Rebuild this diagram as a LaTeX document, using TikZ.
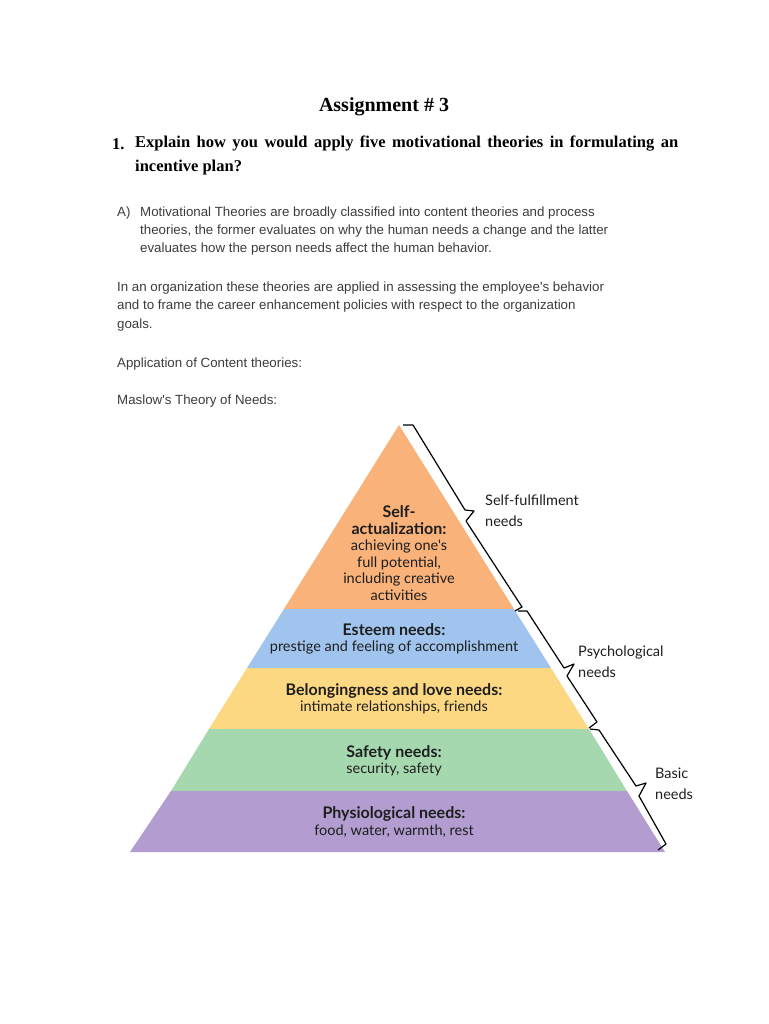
\documentclass[tikz,border=0pt]{standalone}
\usepackage{fontspec}
\setmainfont{Liberation Serif}
\newfontfamily\bodyf{Liberation Sans}
\newfontfamily\pyrf{Lato}
\newcommand\pyrhd[1]{{\bfseries\fontsize{16}{18}\selectfont #1}}
\definecolor{orng}{RGB}{248,178,122}
\definecolor{blu}{RGB}{160,196,238}
\definecolor{yel}{RGB}{252,216,130}
\definecolor{grn}{RGB}{166,216,176}
\definecolor{purp}{RGB}{178,156,208}
\definecolor{bodyc}{RGB}{60,60,60}
\definecolor{ink}{RGB}{30,30,30}
\begin{document}
\begin{tikzpicture}[x=1pt,y=-1pt,
  body/.style={anchor=west,inner sep=0pt,font=\bodyf\fontsize{13.3}{16}\selectfont,text=bodyc},
  q/.style={anchor=west,inner sep=0pt,font=\bfseries\fontsize{16.5}{20}\selectfont},
  pt/.style={align=center,inner sep=0pt,font=\pyrf\fontsize{14.5}{16.5}\selectfont,text=ink},
  lab/.style={anchor=west,align=left,inner sep=0pt,font=\pyrf\fontsize{14.5}{21}\selectfont,text=ink},
  br/.style={line width=1.2pt,line join=round}]
\useasboundingbox (0,0) rectangle (768,1024);
\node[inner sep=0pt,font=\bfseries\fontsize{20}{24}\selectfont] (title) at (384,107) {Assignment \# 3};
\node[q] (qn) at (112,144) {1.};
\node[q] (q1) at (135,144) {\makebox[543pt][s]{Explain how you would apply five motivational theories in formulating an}};
\node[q] (q2) at (135,168) {incentive plan?};
\node[body] (a) at (117,213) {A)};
\node[body] (a1) at (140,213) {Motivational Theories are broadly classified into content theories and process};
\node[body] (a2) at (140,231) {theories, the former evaluates on why the human needs a change and the latter};
\node[body] (a3) at (140,249) {evaluates how the person needs affect the human behavior.};
\node[body] (p1) at (117,288) {In an organization these theories are applied in assessing the employee's behavior};
\node[body] (p2) at (117,306) {and to frame the career enhancement policies with respect to the organization};
\node[body] (p3) at (117,325) {goals.};
\node[body] (ap) at (117,364) {Application of Content theories:};
\node[body] (ma) at (117,401) {Maslow's Theory of Needs:};
% pyramid layers
\fill[orng] (399,425) -- (514,609) -- (284,609) -- cycle;
\fill[blu] (284,609) -- (514,609) -- (551,668) -- (247,668) -- cycle;
\fill[yel] (247,668) -- (551,668) -- (589,729) -- (209,729) -- cycle;
\fill[grn] (209,729) -- (589,729) -- (627,791) -- (171,791) -- cycle;
\fill[purp] (171,791) -- (627,791) -- (665,852) -- (130,852) -- cycle;
\node[pt] (sa) at (399,553) {\pyrhd{Self-}\\\pyrhd{actualization:}\\achieving one's\\full potential,\\including creative\\activities};
\node[pt] (es) at (394,639) {\pyrhd{Esteem needs:}\\prestige and feeling of accomplishment};
\node[pt] (be) at (394,699) {\pyrhd{Belongingness and love needs:}\\intimate relationships, friends};
\node[pt] (sf) at (394,761) {\pyrhd{Safety needs:}\\security, safety};
\node[pt] (ph) at (394,822) {\pyrhd{Physiological needs:}\\food, water, warmth, rest};
% braces
\draw[br] (403,425) -- (413,425) -- (465,510) -- (474,511) -- (466,521) -- (522,607) -- (515,611);
\node[lab] (l1) at (485,511) {Self-fulfillment\\needs};
\draw[br] (518,611) -- (527,611) -- (564,668) -- (574,664) -- (567,676) -- (597,722) -- (589,728);
\node[lab] (l2) at (578,662) {Psychological\\needs};
\draw[br] (590,729) -- (599,730) -- (636,786) -- (646,783) -- (639,796) -- (666,844) -- (658,850);
\node[lab] (l3) at (655,784) {Basic\\needs};
\end{tikzpicture}
\end{document}
